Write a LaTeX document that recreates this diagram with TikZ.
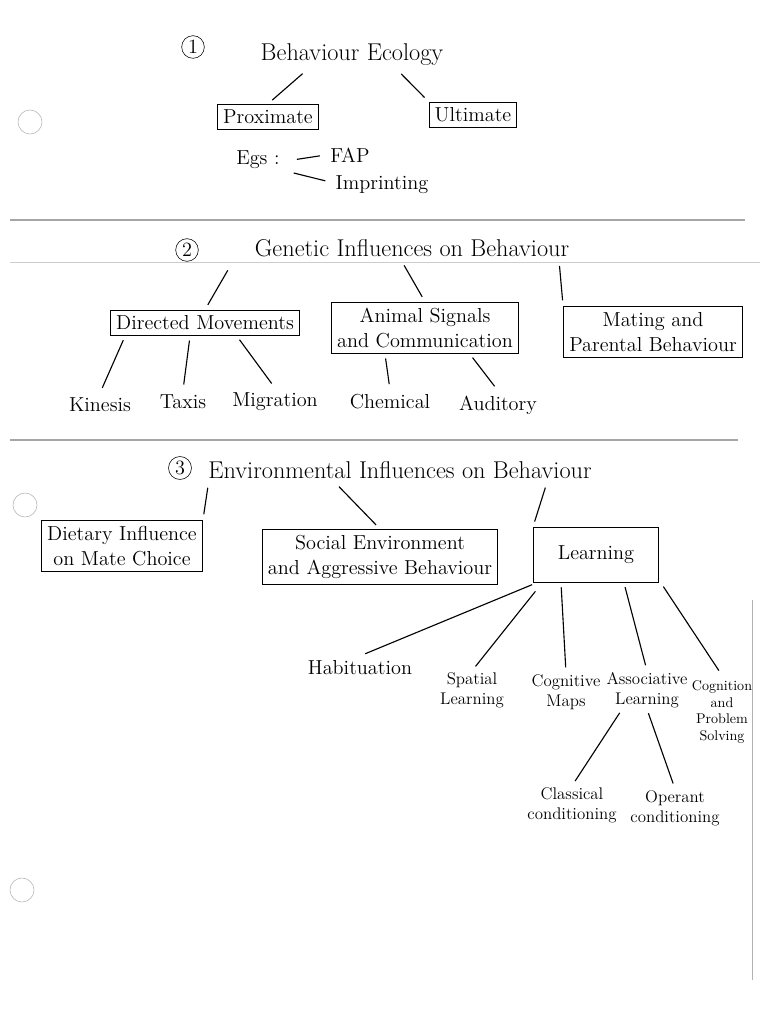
\documentclass[tikz,border=0pt]{standalone}
\usetikzlibrary{positioning}
\tikzset{
  box/.style={draw, thick, align=center, inner sep=4pt, font=\Large},
  leaf/.style={align=center, font=\Large},
  small leaf/.style={align=center, font=\large, inner sep=1pt},
  title/.style={font=\LARGE},
  num/.style={draw, circle, inner sep=1.5pt, font=\Large},
  link/.style={thick, shorten <=3pt, shorten >=4pt},
}
\begin{document}
\begin{tikzpicture}[x=0.025cm, y=-0.025cm]
\useasboundingbox (0,0) rectangle (768,1024);
% punch holes and page lines
\draw[gray!60] (30,122) circle (12) (25,505) circle (12) (22,890) circle (12);
\draw[gray!70, thick] (10,220) -- (745,220);
\draw[gray!40] (10,262) -- (760,262);
\draw[gray!70, thick] (10,440) -- (738,440);
\draw[gray!60] (752,600) -- (752,980);

% section 1
\node[num] (n1) at (193,47) {1};
\node[title] (be) at (352,55) {Behaviour Ecology};
\node[box] (prox) at (268,117) {Proximate};
\node[box] (ult) at (473,115) {Ultimate};
\node[leaf] (egs) at (258,160) {Egs :};
\node[leaf] (fap) at (350,155) {FAP};
\node[leaf] (imp) at (382,185) {Imprinting};
\draw[link] (be.south west) ++(50,0) -- (prox.north);
\draw[link] (be.south east) ++(-50,0) -- (ult.north west);
\draw[link] (egs.east) ++(8,0) -- (fap.west);
\draw[link] (egs.east) ++(5,12) -- ([yshift=2]imp.west);

% section 2
\node[num] (n2) at (187,250) {2};
\node[title] (gen) at (412,248) {Genetic Influences on Behaviour};
\node[box] (dir) at (205,323) {Directed Movements};
\node[box] (sig) at (425,328) {Animal Signals\\and Communication};
\node[box] (mat) at (653,332) {Mating and\\Parental Behaviour};
\node[leaf] (kin) at (100,405) {Kinesis};
\node[leaf] (tax) at (183,402) {Taxis};
\node[leaf] (mig) at (275,402) {Migration};
\node[leaf] (che) at (390,402) {Chemical};
\node[leaf] (aud) at (498,405) {Auditory};
\draw[link] (gen.south west) ++(-20,5) -- (dir.north);
\draw[link] (gen.south) ++(-10,0) -- (sig.north);
\draw[link] (gen.south east) ++(-15,0) -- (mat.north west);
\draw[link] (dir.south) ++(-80,0) -- (kin.north);
\draw[link] (dir.south) ++(-15,0) -- (tax.north);
\draw[link] (dir.south) ++(32,0) -- (mig.north);
\draw[link] (sig.south) ++(-40,0) -- (che.north);
\draw[link] (sig.south) ++(45,0) -- (aud.north);

% section 3
\node[num] (n3) at (180,468) {3};
\node[title] (env) at (400,470) {Environmental Influences on Behaviour};
\node[box] (die) at (122,546) {Dietary Influence\\on Mate Choice};
\node[box] (soc) at (380,557) {Social Environment\\and Aggressive Behaviour};
\node[box, minimum width=125*0.025cm, minimum height=55*0.025cm] (lea) at (596,555) {Learning};
\draw[link] (env.south west) ++(5,0) -- (die.north east);
\draw[link] (env.south) ++(-64,0) -- (soc.north);
\draw[link] (env.south east) ++(-50,0) -- (lea.north west);
\node[leaf] (hab) at (360,668) {Habituation};
\node[small leaf] (spa) at (472,690) {Spatial\\Learning};
\node[small leaf] (cog) at (566,692) {Cognitive\\Maps};
\node[small leaf] (ass) at (647,690) {Associative\\Learning};
\node[leaf, font=\normalsize] (pro) at (722,712) {Cognition\\and\\Problem\\Solving};
\node[small leaf] (cla) at (572,805) {Classical\\conditioning};
\node[small leaf] (ope) at (675,808) {Operant\\conditioning};
\draw[link] (lea.south) ++(-60,0) -- (hab.north);
\draw[link] (lea.south) ++(-58,5) -- (spa.north);
\draw[link] (lea.south) ++(-35,0) -- (cog.north);
\draw[link] (lea.south) ++(28,0) -- (ass.north);
\draw[link] (lea.south) ++(65,0) -- (pro.north);
\draw[link] (ass.south) ++(-25,0) -- (cla.north);
\draw[link] (ass.south) ++(0,0) -- (ope.north);
\end{tikzpicture}
\end{document}
